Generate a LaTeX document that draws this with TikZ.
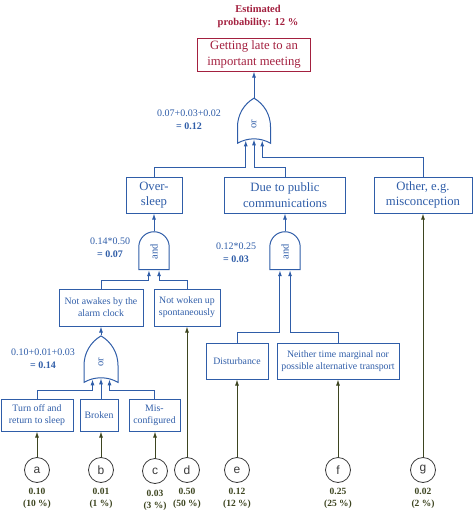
\documentclass[tikz,border=0pt]{standalone}
\usepackage{fontspec}
\setmainfont{Liberation Serif}
\setsansfont{Liberation Sans}
\usetikzlibrary{arrows.meta,shapes.gates.logic.US}
\definecolor{Bc}{HTML}{2F5DA8}
\definecolor{Rc}{HTML}{A3203F}
\definecolor{Ec}{HTML}{3D4520}
\definecolor{Cc}{HTML}{3A3A3A}
\tikzset{
  evbox/.style={draw=Bc, line width=1pt, text=Bc, align=center, inner sep=1pt,
    font=\fontsize{9.8}{12}\selectfont},
  bigbox/.style={evbox, font=\fontsize{12.7}{15.5}\selectfont},
  topbox/.style={bigbox, draw=Rc, text=Rc},
  orG/.style={or gate US, draw=Bc, line width=1pt, rotate=90, logic gate inputs=nnn,
    text=Bc, font=\fontsize{10.5}{10.5}\selectfont, inner sep=0pt},
  andG/.style={and gate US, draw=Bc, line width=1pt, rotate=90, logic gate inputs=nn,
    text=Bc, font=\fontsize{10.5}{10.5}\selectfont, inner sep=0pt},
  basic/.style={circle, draw=Cc, line width=0.8pt, minimum size=25pt, inner sep=0pt,
    font=\sffamily\fontsize{12}{12}\selectfont, text=Cc},
  prob/.style={font=\bfseries\fontsize{9.5}{12}\selectfont, text=Ec, align=center},
  gatelbl/.style={text=Bc, align=center, font=\fontsize{10}{13}\selectfont},
  link/.style={-{Latex[length=6pt,width=4pt]}, draw=Bc, line width=1pt},
  evlink/.style={-{Latex[length=6pt,width=4pt]}, draw=Ec, line width=1pt},
}
\begin{document}
\begin{tikzpicture}[x=1pt,y=-1pt]
  \useasboundingbox (0,0) rectangle (474,515);
  % top event
  \node[text=Rc, align=center, font=\bfseries\fontsize{10.5}{13}\selectfont] (est) at (258,16.5)
    {Estimated\\ probability: 12 \%};
  \node[topbox, minimum width=113pt, minimum height=33pt] (late) at (254,54.5)
    {Getting late to an\\ important meeting};
  \node[orG, minimum width=42pt, minimum height=33pt] (gTop) at (254,124) {or};
  \node[gatelbl] (lTop) at (189,120) {0.07+0.03+0.02\\ \textbf{= 0.12}};
  % second level
  \node[bigbox, minimum width=56pt, minimum height=36pt] (over) at (154,195) {Over-\\ sleep};
  \node[bigbox, minimum width=121pt, minimum height=36pt] (public) at (285,195)
    {Due to public\\ communications};
  \node[bigbox, minimum width=98pt, minimum height=36pt] (other) at (423,195)
    {Other, e.g.\\ misconception};
  \node[andG, minimum width=38pt, minimum height=28pt] (gOver) at (154,252) {and};
  \node[gatelbl] (lOver) at (110,247.5) {0.14*0.50\\ \textbf{= 0.07}};
  \node[andG, minimum width=38pt, minimum height=28pt] (gPublic) at (285,252) {and};
  \node[gatelbl] (lPublic) at (236,252.5) {0.12*0.25\\ \textbf{= 0.03}};
  % third level
  \node[evbox, minimum width=84pt, minimum height=37pt] (awake) at (101,307.5)
    {Not awakes by the\\ alarm clock};
  \node[evbox, minimum width=66pt, minimum height=37pt] (woken) at (187,307.5)
    {Not woken up\\ spontaneously};
  \node[evbox, minimum width=62pt, minimum height=36pt] (disturb) at (237,361) {Disturbance};
  \node[evbox, minimum width=122pt, minimum height=36pt] (neither) at (338,361)
    {Neither time marginal nor\\ possible alternative transport};
  \node[orG, minimum width=41pt, minimum height=34pt] (gAlarm) at (101,362.5) {or};
  \node[gatelbl] (lAlarm) at (43,358.5) {0.10+0.01+0.03\\ \textbf{= 0.14}};
  % fourth level
  \node[evbox, minimum width=72pt, minimum height=32pt] (turnoff) at (37,415)
    {Turn off and\\ return to sleep};
  \node[evbox, minimum width=38pt, minimum height=32pt] (broken) at (99,415) {Broken};
  \node[evbox, minimum width=51pt, minimum height=32pt] (miscfg) at (154.5,415)
    {Mis-\\ configured};
  % basic events
  \node[basic] (a) at (37,470) {a};
  \node[basic] (b) at (101,470) {b};
  \node[basic] (c) at (155,471) {c};
  \node[basic] (d) at (187,470) {d};
  \node[basic] (e) at (237,470) {e};
  \node[basic] (f) at (338,470) {f};
  \node[basic] (g) at (423,470) {g};
  \node[prob] (pa) at (37,498) {0.10\\ (10 \%)};
  \node[prob] (pb) at (101,498) {0.01\\ (1 \%)};
  \node[prob] (pc) at (155,500) {0.03\\ (3 \%)};
  \node[prob] (pd) at (187,498) {0.50\\ (50 \%)};
  \node[prob] (pe) at (237,498) {0.12\\ (12 \%)};
  \node[prob] (pf) at (338,498) {0.25\\ (25 \%)};
  \node[prob] (pg) at (423,498) {0.02\\ (2 \%)};
  % gate connections
  \draw[link] (gTop.output) -- (late.south);
  \draw[link] (over.north) -- ++(0,-9) -| (gTop.input 1);
  \draw[link] (public.north) -- ++(0,-9) -| (gTop.input 2);
  \draw[link] (other.north) -- ++(0,-19) -| (gTop.input 3);
  \draw[link] (gOver.output) -- (over.south);
  \draw[link] (awake.north) -- ++(0,-8) -| (gOver.input 1);
  \draw[link] (woken.north) -- ++(0,-8) -| (gOver.input 2);
  \draw[link] (gPublic.output) -- (public.south);
  \draw[link] (disturb.north) -- ++(0,-10) -| (gPublic.input 1);
  \draw[link] (neither.north) -- ++(0,-10) -| (gPublic.input 2);
  \draw[link] (gAlarm.output) -- (awake.south);
  \draw[link] (turnoff.north) -- ++(0,-8) -| (gAlarm.input 1);
  \draw[link] (gAlarm.input 2 |- broken.north) -- (gAlarm.input 2);
  \draw[link] (miscfg.north) -- ++(0,-8) -| (gAlarm.input 3);
  % basic event arrows
  \draw[evlink] (a) -- (turnoff);
  \draw[evlink] (b) -- (b |- broken.south);
  \draw[evlink] (c) -- (c |- miscfg.south);
  \draw[evlink] (d) -- (woken);
  \draw[evlink] (e) -- (disturb);
  \draw[evlink] (f) -- (neither);
  \draw[evlink] (g) -- (other);
\end{tikzpicture}
\end{document}
